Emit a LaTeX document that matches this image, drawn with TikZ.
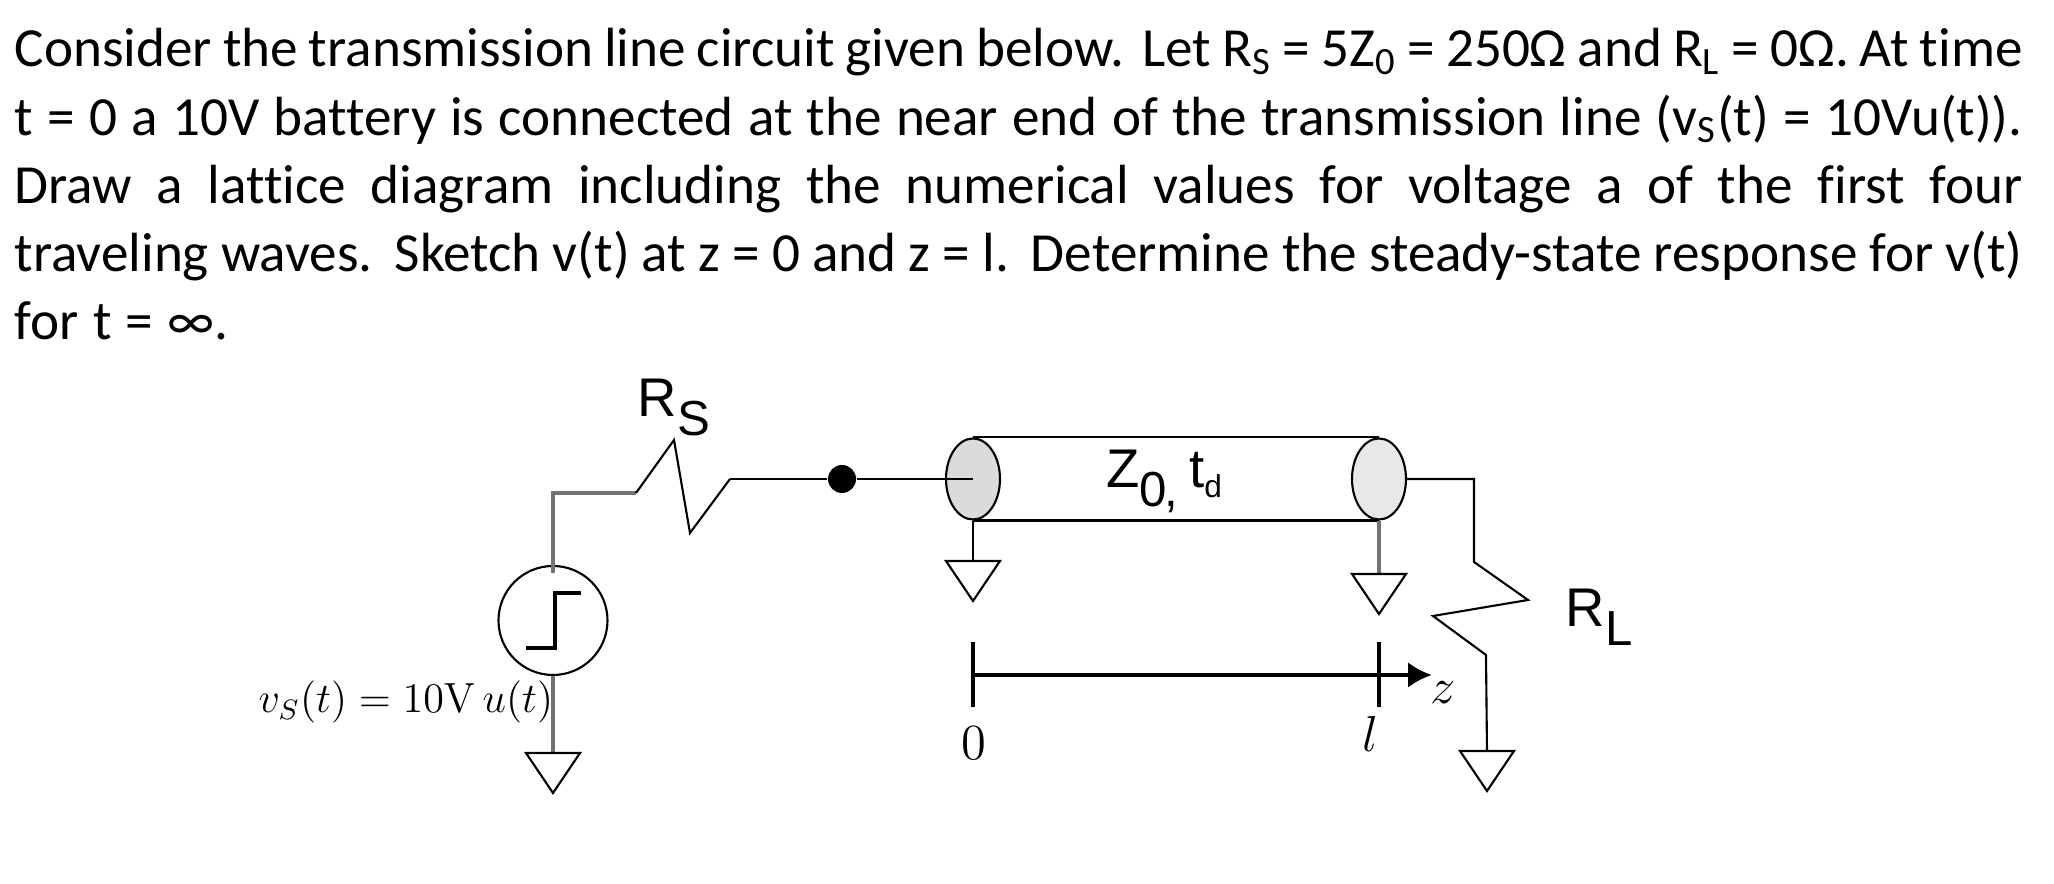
\documentclass[tikz,border=0pt]{standalone}
\usepackage[no-math]{fontspec}
\usepackage{amsmath}
\setmainfont[Ligatures=NoCommon]{Carlito}
\newfontfamily\labelfont{Liberation Sans}
\usetikzlibrary{shapes.geometric,arrows.meta}

\tikzset{
  wire/.style={line width=0.6pt,black},
  greywire/.style={line width=0.9pt,black!55},
  endcap/.style={ellipse,draw,line width=0.6pt,inner sep=0pt,minimum width=0.54cm,minimum height=0.81cm},
  gnd/.pic={\draw[line width=0.6pt] (-0.27,0) -- (0.27,0) -- (0,-0.40) -- cycle;},
  circlabel/.style={inner sep=0pt,anchor=base west,font=\labelfont\fontsize{15.5}{18}\selectfont},
  axislabel/.style={inner sep=0pt,anchor=base,font=\fontsize{15}{18}\selectfont}
}

\begin{document}
\begin{tikzpicture}[scale=1.0]

    \useasboundingbox (0,0) rectangle (20.54,8.84);

    \node[inner sep=0pt,anchor=north west,text width=20.08cm,align=justify,
      font=\fontsize{15.7}{19.35}\selectfont] (problem) at (0.14,8.56)
      {\spaceskip=0.17em plus 0.4em minus 0.03em\relax
       Consider the transmission line circuit given below. Let R\textsubscript{S} = 5Z\textsubscript{0} = 250Ω and R\textsubscript{L} = 0Ω. At time\linebreak
       t = 0 a 10V battery is connected at the near end of the transmission line (v\textsubscript{S}(t) = 10Vu(t)).\linebreak
       Draw a lattice diagram including the numerical values for voltage a of the first four\linebreak
       traveling waves. Sketch v(t) at z = 0 and z = l. Determine the steady-state response for v(t)\linebreak
       \spaceskip=0.26em\relax for t = ∞.};

    % source side
    \node[circle,draw,line width=0.6pt,inner sep=0pt,minimum size=1.09cm] (source) at (5.53,2.635) {};
    \draw[line width=1pt] (5.26,2.36) -- (5.55,2.36) -- (5.55,2.91) -- (5.81,2.91);
    \coordinate (corner) at (5.53,3.91);
    \coordinate (rsa) at (6.36,3.91);
    \coordinate (rsb) at (7.30,4.05);
    \coordinate (sourcetop) at (5.53,3.11);
    \coordinate (gnda) at (5.53,1.31);
    \draw[greywire] (sourcetop) -- (corner) -- (rsa);
    \draw[wire] (rsa) -- (6.74,4.44) -- (6.90,3.51) -- (rsb);
    \draw[greywire] (source.south) -- (gnda);
    \path (gnda) pic {gnd};

    \node[circle,fill=black,inner sep=0pt,minimum size=0.28cm] (dot) at (8.42,4.05) {};

    % line
    \node[endcap,fill=black!14] (near) at (9.73,4.05) {};
    \node[endcap,fill=black!9] (far) at (13.79,4.05) {};
    \draw[wire] (rsb) -- (dot) -- (near.center);
    \draw[wire] (near.north) -- (far.north);
    \draw[wire] (near.south) -- (far.south);

    \coordinate (gndb) at (9.73,3.23);
    \coordinate (gndc) at (13.79,3.10);
    \draw[wire] (near.south) -- (gndb);
    \draw[greywire] (far.south) -- (gndc);
    \path (gndb) pic {gnd};
    \path (gndc) pic {gnd};

    % load
    \coordinate (rla) at (14.74,3.22);
    \coordinate (rlb) at (14.86,2.29);
    \coordinate (gndd) at (14.87,1.33);
    \draw[wire] (far.east) -| (rla) -- (15.28,2.84) -- (14.33,2.68) -- (rlb) -- (gndd);
    \path (gndd) pic {gnd};

    % z axis
    \coordinate (za) at (9.73,2.09);
    \coordinate (zb) at (14.32,2.09);
    \coordinate (la) at (13.79,2.09);
    \draw[line width=1.4pt,-{Latex[length=0.24cm,width=0.26cm]}] (za) -- (zb);
    \draw[line width=0.9pt] ([yshift=0.33cm]za) -- ([yshift=-0.32cm]za);
    \draw[line width=0.9pt] ([yshift=0.33cm]la) -- ([yshift=-0.32cm]la);

    % labels
    \node[circlabel] (rslabel) at (6.37,4.67) {R\raisebox{-0.19cm}{\fontsize{14}{16}\selectfont S}};
    \node[circlabel] (rllabel) at (15.65,2.57) {R\raisebox{-0.19cm}{\fontsize{14}{16}\selectfont L}};
    \node[circlabel] (zlabel) at (11.06,3.96) {Z\raisebox{-0.19cm}{\fontsize{14}{16}\selectfont 0\kern-0.03cm,}\kern-0.04cm\ t\raisebox{-0.10cm}{\fontsize{9}{11}\selectfont d}};
    \node[inner sep=0pt,anchor=base west,font=\fontsize{11.5}{14}\selectfont] (vlabel) at (2.58,1.71) {$v_S(t)=10\mathrm{V}\,u(t)$};
    \node[axislabel] (zero) at (9.74,1.24) {$0$};
    \node[axislabel] (len) at (13.70,1.32) {$l$};
    \node[axislabel,anchor=base west] (zname) at (14.30,1.80) {$z$};

\end{tikzpicture}
\end{document}
